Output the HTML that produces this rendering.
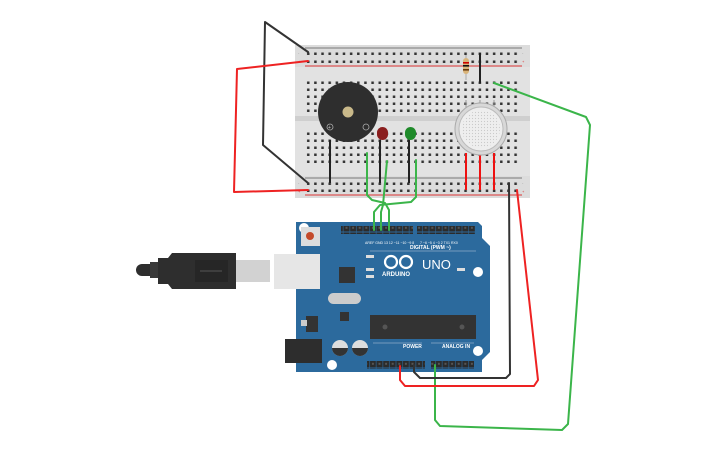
<!DOCTYPE html>
<html><head><meta charset="utf-8"><style>
html,body{margin:0;padding:0;background:#fff;width:725px;height:453px;overflow:hidden}
svg{display:block;font-family:"Liberation Sans",sans-serif}
</style></head><body>
<svg width="725" height="453" viewBox="0 0 725 453">
<defs>
<pattern id="holes" x="305.5" y="0" width="7.15" height="7" patternUnits="userSpaceOnUse">
<rect x="1.5" y="1.5" width="2.5" height="2.5" fill="#333"/>
</pattern>
<pattern id="pins" x="0" y="0" width="6.6" height="8" patternUnits="userSpaceOnUse">
<rect x="0.3" y="0.5" width="6" height="7" fill="#2b2b2b"/><rect x="2.3" y="2.8" width="2" height="2" fill="#555"/>
</pattern>
<pattern id="mesh" width="3" height="3" patternUnits="userSpaceOnUse"><circle cx="1.5" cy="1.5" r="0.6" fill="#c9c9c9"/></pattern>
</defs>

<!-- breadboard -->
<rect x="295" y="45" width="235" height="153" fill="#e2e2e2"/>
<rect x="295" y="45" width="235" height="22" fill="#dcdcdc"/>
<rect x="295" y="176" width="235" height="22" fill="#dcdcdc"/>
<rect x="295" y="116" width="235" height="5" fill="#cfcfcf"/>
<line x1="305" y1="48" x2="522" y2="48" stroke="#777" stroke-width="1"/>
<line x1="305" y1="66" x2="522" y2="66" stroke="#d33" stroke-width="1"/>
<line x1="305" y1="178" x2="522" y2="178" stroke="#777" stroke-width="1"/>
<line x1="305" y1="195" x2="522" y2="195" stroke="#d33" stroke-width="1"/>
<g transform="translate(0,51)"><rect x="305.5" y="0" width="214" height="5" fill="url(#holes)"/></g>
<g transform="translate(0,59)"><rect x="305.5" y="0" width="214" height="5" fill="url(#holes)"/></g>
<g transform="translate(0,181)"><rect x="305.5" y="0" width="214" height="5" fill="url(#holes)"/></g>
<g transform="translate(0,188)"><rect x="305.5" y="0" width="214" height="5" fill="url(#holes)"/></g>
<g transform="translate(0,80)"><rect x="305.5" y="0" width="214" height="34" fill="url(#holes)"/></g>
<g transform="translate(0,131)"><rect x="305.5" y="0" width="214" height="34" fill="url(#holes)"/></g>
<g font-size="4" fill="#888"><text x="298" y="54">-</text><text x="298" y="63" fill="#d33">+</text><text x="522" y="54">-</text><text x="522" y="63" fill="#d33">+</text>
<text x="298" y="184">-</text><text x="298" y="193" fill="#d33">+</text><text x="522" y="184">-</text><text x="522" y="193" fill="#d33">+</text></g>

<!-- buzzer -->
<circle cx="348" cy="112" r="30" fill="#2e2e2e"/>
<circle cx="348" cy="112" r="5.5" fill="#c9b98a"/>
<circle cx="330" cy="127" r="3" fill="none" stroke="#aaa" stroke-width="0.8"/><text x="328" y="129" font-size="5" fill="#ccc">+</text>
<circle cx="366" cy="127" r="3" fill="none" stroke="#aaa" stroke-width="0.8"/>
<line x1="330" y1="140" x2="330" y2="183" stroke="#222" stroke-width="2"/>

<!-- LEDs -->
<line x1="380" y1="140" x2="380" y2="183" stroke="#222" stroke-width="2"/>
<line x1="409" y1="140" x2="409" y2="183" stroke="#222" stroke-width="2"/>
<rect x="377" y="127" width="11" height="13" rx="5.5" fill="#8a1e1e"/>
<rect x="405" y="127" width="11" height="13" rx="5.5" fill="#1f8a2a"/>

<!-- resistor -->
<line x1="466" y1="55" x2="466" y2="80" stroke="#aaa" stroke-width="1"/>
<rect x="463" y="58" width="6" height="16" rx="3" fill="#d9b47a"/>
<rect x="463" y="62" width="6" height="1.6" fill="#c00"/><rect x="463" y="65" width="6" height="1.6" fill="#111"/><rect x="463" y="69" width="6" height="1.6" fill="#6b3b10"/>
<line x1="480" y1="53" x2="480" y2="83" stroke="#222" stroke-width="2"/>

<!-- sensor -->
<line x1="466" y1="110" x2="466" y2="100" stroke="#999" stroke-width="1"/>
<line x1="480" y1="110" x2="480" y2="100" stroke="#999" stroke-width="1"/>
<line x1="494" y1="110" x2="494" y2="100" stroke="#999" stroke-width="1"/>
<g stroke="#e11" stroke-width="2"><line x1="466" y1="153" x2="466" y2="190"/><line x1="480" y1="153" x2="480" y2="190"/><line x1="494" y1="153" x2="494" y2="190"/></g>
<circle cx="481" cy="129" r="26" fill="#d8d8d8" stroke="#aaa"/>
<circle cx="481" cy="129" r="22" fill="#eee" stroke="#bbb"/>
<circle cx="481" cy="129" r="19" fill="url(#mesh)"/>

<!-- arduino -->
<path d="M296 222 H478 L482 226 V238 L490 246 V352 L482 360 V372 H296 Z" fill="#2c6a9d"/>
<circle cx="304" cy="228" r="5" fill="#fff"/><circle cx="478" cy="272" r="5" fill="#fff"/><circle cx="478" cy="351" r="5" fill="#fff"/><circle cx="332" cy="365" r="5" fill="#fff"/>
<rect x="341" y="226" width="72" height="8" fill="url(#pins)"/>
<rect x="417" y="226" width="58" height="8" fill="url(#pins)"/>
<rect x="367" y="361" width="58" height="8" fill="url(#pins)"/>
<rect x="431" y="361" width="43" height="8" fill="url(#pins)"/>
<rect x="301" y="227" width="19" height="19" fill="#ddd"/><circle cx="310" cy="236" r="4" fill="#c44a2a"/>
<line x1="370" y1="251" x2="476" y2="251" stroke="#bcd" stroke-width="0.6"/>
<text x="410" y="249" font-size="5" fill="#fff" font-weight="bold">DIGITAL (PWM ~)</text>
<g font-size="3.5" fill="#fff"><text x="365" y="244">AREF GND 13 12 ~11 ~10 ~9 8</text><text x="420" y="244">7 ~6 ~5 4 ~3 2 TX1 RX0</text></g>
<circle cx="391" cy="262" r="6" fill="none" stroke="#fff" stroke-width="2.2"/><circle cx="406" cy="262" r="6" fill="none" stroke="#fff" stroke-width="2.2"/>
<text x="382" y="276" font-size="6" fill="#fff" font-weight="bold">ARDUINO</text>
<text x="422" y="269" font-size="13" fill="#fff">UNO</text>
<rect x="366" y="255" width="8" height="3" fill="#ddd"/><rect x="366" y="268" width="8" height="3" fill="#ddd"/><rect x="366" y="275" width="8" height="3" fill="#ddd"/>
<rect x="457" y="268" width="8" height="3" fill="#ddd"/>
<rect x="339" y="267" width="16" height="16" fill="#333"/>
<rect x="328" y="293" width="33" height="11" rx="5.5" fill="#ccc"/>
<rect x="340" y="312" width="9" height="9" fill="#333"/>
<rect x="306" y="316" width="12" height="16" fill="#333"/><rect x="301" y="320" width="6" height="6" fill="#ccc"/>
<rect x="370" y="315" width="106" height="24" fill="#333"/>
<circle cx="385" cy="327" r="2.5" fill="#555"/><circle cx="462" cy="327" r="2.5" fill="#555"/>
<circle cx="340" cy="348" r="8" fill="#ddd"/><path d="M332 348 A8 8 0 0 0 348 348 Z" fill="#333"/>
<circle cx="360" cy="348" r="8" fill="#ddd"/><path d="M352 348 A8 8 0 0 0 368 348 Z" fill="#333"/>
<rect x="285" y="339" width="37" height="24" fill="#2d2d2d"/>
<text x="403" y="348" font-size="5" fill="#fff" font-weight="bold">POWER</text>
<text x="442" y="348" font-size="5" fill="#fff" font-weight="bold">ANALOG IN</text>
<line x1="373" y1="343" x2="422" y2="343" stroke="#bcd" stroke-width="0.6"/><line x1="431" y1="343" x2="474" y2="343" stroke="#bcd" stroke-width="0.6"/>

<!-- USB -->
<rect x="274" y="254" width="46" height="35" fill="#e6e6e6"/>
<rect x="236" y="260" width="34" height="22" fill="#d2d2d2"/>
<path d="M172 253 H236 V289 H172 L168 284 H158 V258 H168 Z" fill="#2e2e2e"/>
<path d="M158 262 H150 V278 H158 Z" fill="#3a3a3a"/>
<path d="M150 264 H142 A6 6 0 0 0 142 276 H150 Z" fill="#2e2e2e"/>
<rect x="195" y="260" width="33" height="22" fill="#262626"/>
<line x1="200" y1="271" x2="222" y2="271" stroke="#555" stroke-width="1"/>

<!-- wires -->
<g fill="none" stroke-linejoin="round" stroke-linecap="round" stroke-width="2">
<polyline points="308,52 265,22 263,145 308,183" stroke="#333"/>
<polyline points="308,61 237,69 234,192 308,190" stroke="#e22"/>
<polyline points="494,83 586,117 590,125 568,424 562,430 440,426 435,420 435,365" stroke="#3bb54a"/>
<polyline points="509,183 510,374 506,378 420,378 414,372 414,365" stroke="#333"/>
<polyline points="517,190 538,380 534,386 405,386 400,380 400,366" stroke="#e22"/>
<polyline points="367,153 367,195 372,200 385,203 389,210 389,230" stroke="#3bb54a"/>
<polyline points="387,161 383,205 381,212 381,230" stroke="#3bb54a"/>
<polyline points="416,160 416,197 411,202 380,205 374,212 374,230" stroke="#3bb54a"/>
</g>
</svg>
</body></html>
